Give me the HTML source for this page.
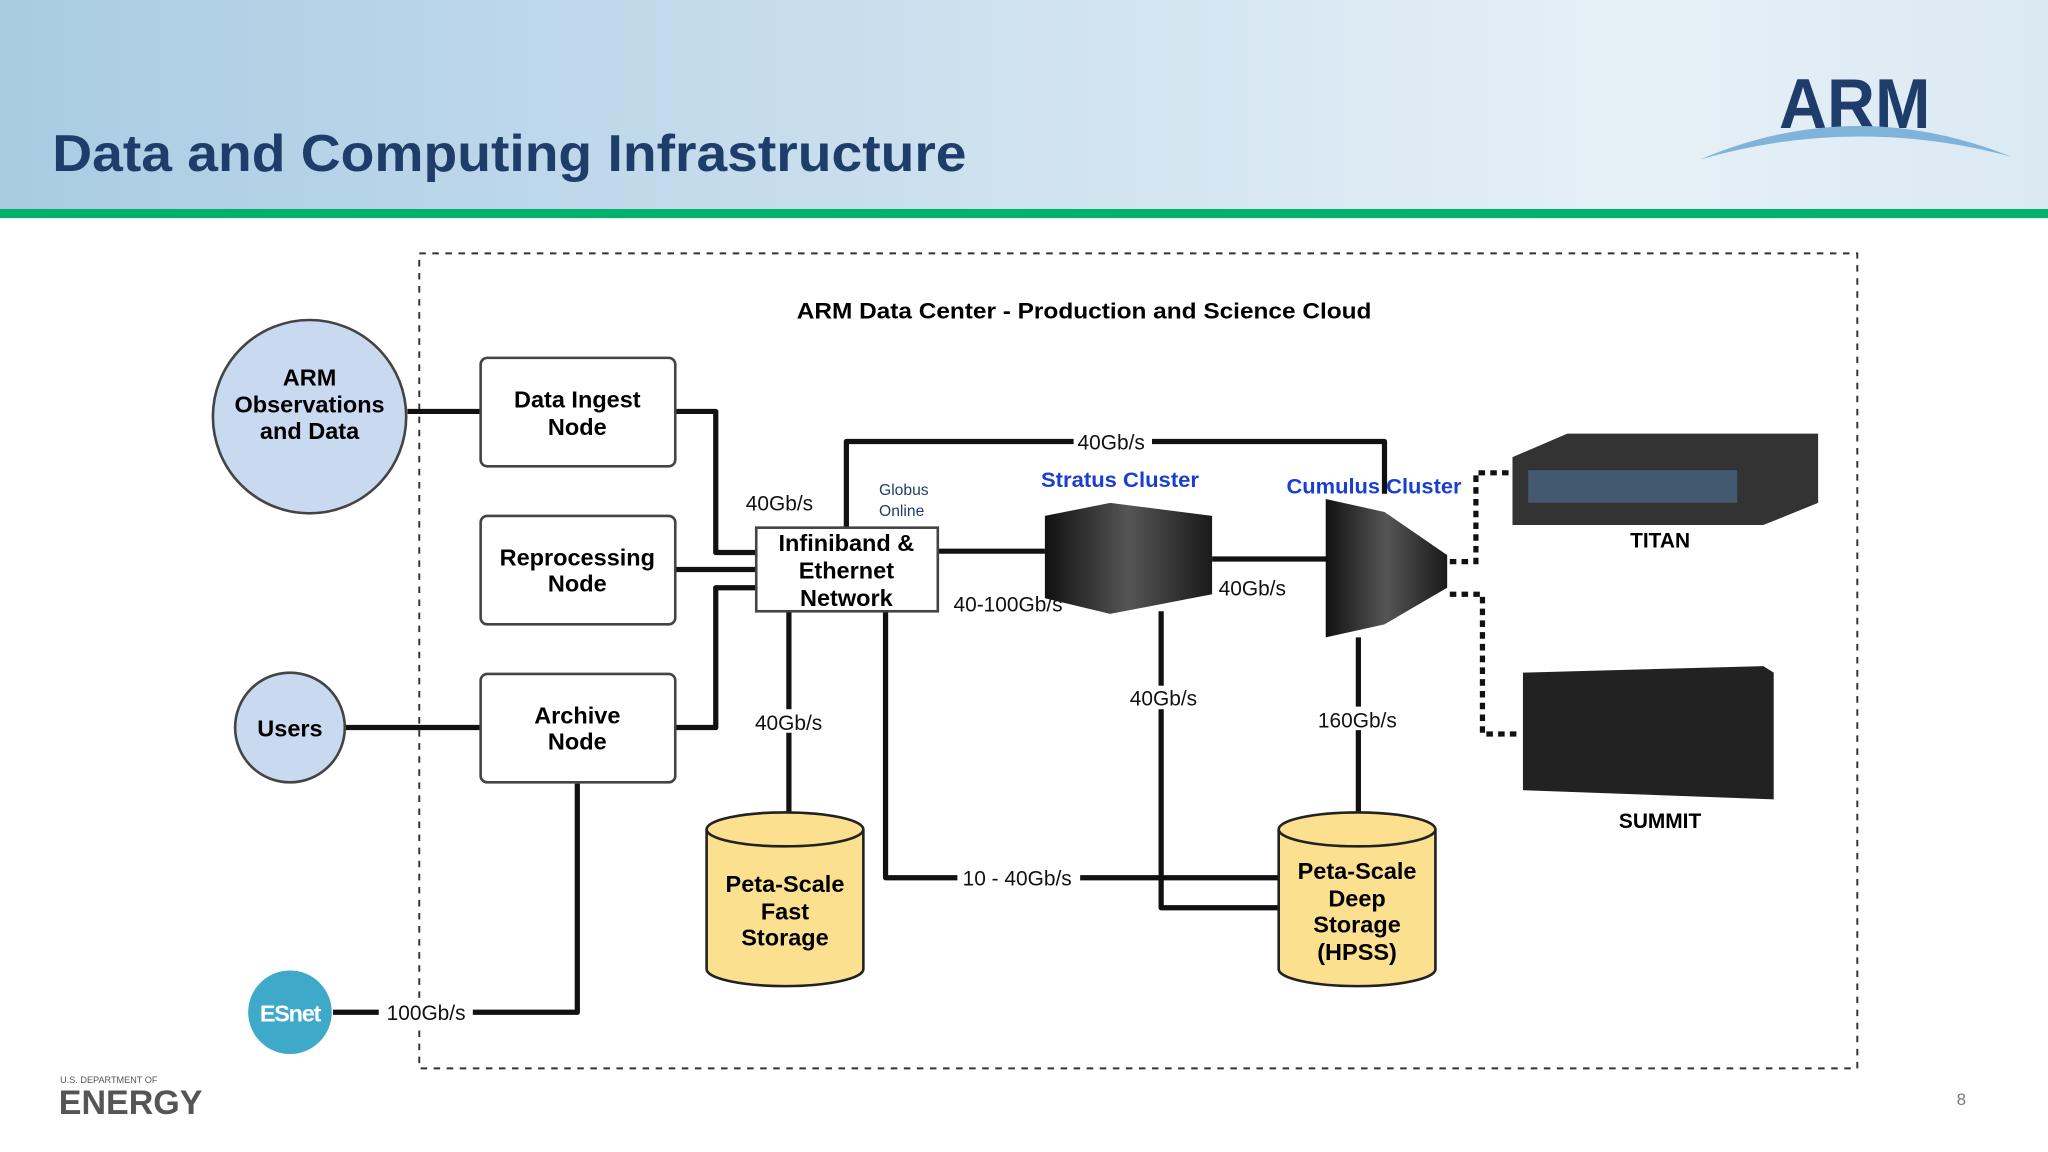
<!DOCTYPE html>
<html><head><style>html,body{margin:0;padding:0;background:#fff;overflow:hidden}svg{display:block}</style></head>
<body>
<svg width="2048" height="1152" viewBox="0 0 1568 882" xmlns="http://www.w3.org/2000/svg" font-family="Liberation Sans, Arial, sans-serif">
<defs>
<linearGradient id="hd" x1="0" x2="1" y1="0" y2="0">
<stop offset="0" stop-color="#a9cce3"/><stop offset="0.5" stop-color="#cfe2ef"/><stop offset="0.8" stop-color="#e6f0f7"/><stop offset="1" stop-color="#dbe9f3"/></linearGradient>
<linearGradient id="rack" x1="0" x2="1"><stop offset="0" stop-color="#111"/><stop offset="0.5" stop-color="#555"/><stop offset="1" stop-color="#1a1a1a"/></linearGradient>
</defs>
<rect width="1568" height="882" fill="#fff"/>
<rect width="1568" height="160" fill="url(#hd)"/>
<rect y="160" width="1568" height="7" fill="#00b26b"/>
<text x="40" y="131" font-size="40" font-weight="bold" fill="#1f3d6b" textLength="700" lengthAdjust="spacingAndGlyphs">Data and Computing Infrastructure</text>
<text x="1362" y="98" font-size="54" font-weight="bold" fill="#1f3d6b" textLength="116" lengthAdjust="spacingAndGlyphs">ARM</text>
<path d="M1302 122 Q1420 72 1540 120 Q1420 88 1302 122Z" fill="#7fb3da"/>
<rect x="321" y="194" width="1101" height="624" fill="none" stroke="#333" stroke-width="1.5" stroke-dasharray="5,5"/>
<text x="830" y="244" font-size="17" font-weight="bold" text-anchor="middle" textLength="440" lengthAdjust="spacingAndGlyphs">ARM Data Center - Production and Science Cloud</text>
<g stroke="#111" stroke-width="4" fill="none" stroke-linejoin="round">
<path d="M312 315H368"/><path d="M517 315H548V423H580"/><path d="M517 436H580"/><path d="M517 557H548V450H580"/>
<path d="M264 557H368"/><path d="M255 775H442V600"/>
<path d="M648 405V338H1060V378"/><path d="M718 422H800"/><path d="M928 428H1016"/>
<path d="M604 468V635"/><path d="M678 468V672H980"/><path d="M889 468V695H980"/><path d="M1040 488V625"/>
</g>
<g stroke="#111" stroke-width="4" fill="none" stroke-dasharray="5,4">
<path d="M1110 430H1130V362H1155"/><path d="M1110 455H1135V562H1162"/>
</g>
<circle cx="237" cy="319" r="74" fill="#c9daf0" stroke="#444" stroke-width="2"/>
<text font-size="18" font-weight="bold" text-anchor="middle"><tspan x="237" y="295">ARM</tspan><tspan x="237" y="316">Observations</tspan><tspan x="237" y="336">and Data</tspan></text>
<circle cx="222" cy="557" r="42" fill="#c9daf0" stroke="#444" stroke-width="2"/>
<text x="222" y="564" font-size="18" font-weight="bold" text-anchor="middle">Users</text>
<circle cx="222" cy="775" r="32" fill="#3fa9c9"/>
<text x="222" y="782" font-size="18" font-weight="bold" fill="#fff" text-anchor="middle" letter-spacing="-1">ESnet</text>
<g fill="#fff" stroke="#444" stroke-width="2">
<rect x="368" y="274" width="149" height="83" rx="5"/><rect x="368" y="395" width="149" height="83" rx="5"/><rect x="368" y="516" width="149" height="83" rx="5"/>
<rect x="579" y="404" width="139" height="64"/>
</g>
<g font-size="18" font-weight="bold" text-anchor="middle">
<text><tspan x="442" y="312">Data Ingest</tspan><tspan x="442" y="333">Node</tspan></text>
<text><tspan x="442" y="433">Reprocessing</tspan><tspan x="442" y="453">Node</tspan></text>
<text><tspan x="442" y="554">Archive</tspan><tspan x="442" y="574">Node</tspan></text>
<text><tspan x="648" y="422">Infiniband  &amp;</tspan><tspan x="648" y="443">Ethernet</tspan><tspan x="648" y="464">Network</tspan></text>
</g>
<g font-size="16" fill="#111">
<rect x="290" y="766" width="72" height="18" fill="#fff"/><text x="296" y="781">100Gb/s</text>
<text x="571" y="391">40Gb/s</text>
<rect x="574" y="543" width="60" height="18" fill="#fff"/><text x="578" y="559">40Gb/s</text>
<rect x="822" y="329" width="60" height="18" fill="#fff"/><text x="825" y="344">40Gb/s</text>
<text x="730" y="468">40-100Gb/s</text>
<text x="933" y="456">40Gb/s</text>
<rect x="862" y="525" width="60" height="18" fill="#fff"/><text x="865" y="540">40Gb/s</text>
<rect x="1006" y="541" width="68" height="18" fill="#fff"/><text x="1009" y="557">160Gb/s</text>
<rect x="733" y="663" width="94" height="18" fill="#fff"/><text x="737" y="678">10 - 40Gb/s</text>
</g>
<text font-size="12" fill="#1f3d6b"><tspan x="673" y="379">Globus</tspan><tspan x="673" y="395">Online</tspan></text>
<text x="797" y="373" font-size="16" font-weight="bold" fill="#1a3fd0" textLength="121" lengthAdjust="spacingAndGlyphs">Stratus Cluster</text>
<text x="985" y="378" font-size="16" font-weight="bold" fill="#1a3fd0" textLength="134" lengthAdjust="spacingAndGlyphs">Cumulus Cluster</text>
<path d="M800 395L850 385L928 395V455L850 470L800 458Z" fill="url(#rack)"/>
<path d="M1015 382L1060 392L1108 425V450L1060 478L1015 488Z" fill="url(#rack)"/>
<path d="M1158 350L1200 332H1392V385L1350 402H1158Z" fill="#333"/>
<rect x="1170" y="360" width="160" height="25" fill="#4a6a8a" opacity="0.7"/>
<text x="1271" y="419" font-size="16" font-weight="bold" text-anchor="middle">TITAN</text>
<path d="M1166 515L1350 510L1358 515V612L1166 605Z" fill="#222"/>
<text x="1271" y="634" font-size="16" font-weight="bold" text-anchor="middle">SUMMIT</text>
<g fill="#fbe08f" stroke="#222" stroke-width="2">
<path d="M541 635V742A60 13 0 0 0 661 742V635"/><ellipse cx="601" cy="635" rx="60" ry="13"/>
<path d="M979 635V742A60 13 0 0 0 1099 742V635"/><ellipse cx="1039" cy="635" rx="60" ry="13"/>
</g>
<g font-size="18" font-weight="bold" text-anchor="middle">
<text><tspan x="601" y="683">Peta-Scale</tspan><tspan x="601" y="704">Fast</tspan><tspan x="601" y="724">Storage</tspan></text>
<text><tspan x="1039" y="673">Peta-Scale</tspan><tspan x="1039" y="694">Deep</tspan><tspan x="1039" y="714">Storage</tspan><tspan x="1039" y="735">(HPSS)</tspan></text>
</g>
<text x="46" y="829" font-size="7" fill="#555">U.S. DEPARTMENT OF</text>
<text x="45" y="853" font-size="26" font-weight="bold" fill="#555" textLength="110" lengthAdjust="spacingAndGlyphs">ENERGY</text>
<text x="1498" y="846" font-size="13" fill="#777">8</text>
</svg>
</body></html>
